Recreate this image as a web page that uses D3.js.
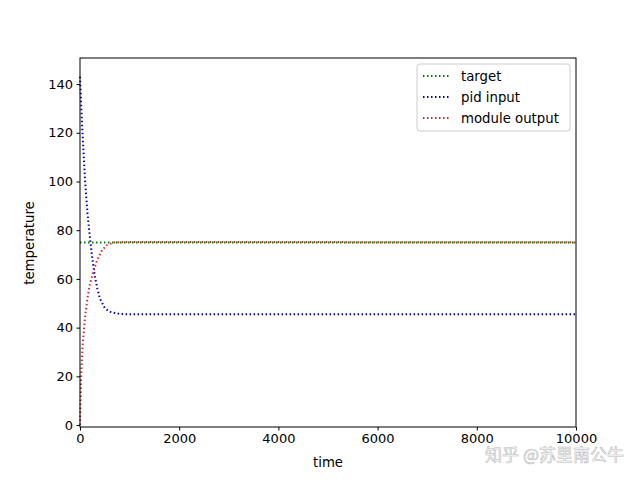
<!DOCTYPE html><html><head><script src="https://cdn.jsdelivr.net/npm/d3@7"></script></head><body style="margin:0"><svg id="c" width="640" height="480"></svg><script>
const xTicks=[0,2000,4000,6000,8000,10000];
const yTicks=[0,20,40,60,80,100,120,140];
const targetT=[0,10000], targetV=[75,75];
const pidT=[0,25,50,100,150,200,250,300,350,400,500,600,800,1000,10000];
const pidV=[143,131,120,101,87,77,68,61,56,52,48,46.5,45.6,45.5,45.5];
const outT=[0,10,20,50,100,150,200,270,350,450,550,700,1000,10000];
const outV=[0,10,18,32,44,52,58,63,68,72,74,75,75.2,75];
const series=[{name:"target",t:targetT,v:targetV,c:"#008000"},{name:"pid input",t:pidT,v:pidV,c:"#0000bf"},{name:"module output",t:outT,v:outV,c:"#d62728"}];
const svg=d3.select("#c");svg.append("rect").attr("width",640).attr("height",480).attr("fill","#fff");
const x=d3.scaleLinear().domain([0,10000]).range([80,576]);
const y=d3.scaleLinear().domain([-0.8,150.7]).range([427,58]);
const f="DejaVu Sans, sans-serif";
const line=d3.line().x(d=>x(d[0])).y(d=>y(d[1]));
const dash="1.5,2.5";
series.forEach(s=>{svg.append("path").attr("d",line(s.t.map((t,i)=>[t,s.v[i]]))).attr("fill","none").attr("stroke",s.c).attr("stroke-width",2).attr("stroke-dasharray",dash);});
const gx=svg.append("g").attr("transform","translate(0,427)").call(d3.axisBottom(x).tickValues(xTicks).tickFormat(d3.format("d")).tickSize(3.5).tickPadding(3.5));
const gy=svg.append("g").attr("transform","translate(80,0)").call(d3.axisLeft(y).tickValues(yTicks).tickFormat(d3.format("d")).tickSize(3.5).tickPadding(3.5));
[gx,gy].forEach(g=>{g.selectAll("text").attr("font-family",f).attr("font-size",13).attr("fill","#000");g.select(".domain").remove();g.selectAll("line").attr("stroke","#000");});
svg.append("rect").attr("x",80).attr("y",58).attr("width",496).attr("height",369).attr("fill","none").attr("stroke","#000").attr("stroke-width",1);
svg.append("text").attr("x",328).attr("y",467).attr("text-anchor","middle").attr("font-family",f).attr("font-size",13.3).text("time");
svg.append("text").attr("transform","translate(34,243) rotate(-90)").attr("text-anchor","middle").attr("font-family",f).attr("font-size",13.3).text("temperature");
const lg=svg.append("g");
lg.append("rect").attr("x",417).attr("y",64).attr("width",153).attr("height",67).attr("rx",3).attr("fill","#fff").attr("stroke","#ccc");
series.forEach((s,i)=>{const yy=76+i*21;lg.append("line").attr("x1",423).attr("x2",451).attr("y1",yy).attr("y2",yy).attr("stroke",s.c).attr("stroke-width",2).attr("stroke-dasharray",dash);lg.append("text").attr("x",461).attr("y",yy+4.5).attr("font-family",f).attr("font-size",13.3).text(s.name);});
svg.append("text").attr("x",624).attr("y",461).attr("text-anchor","end").attr("font-family","Noto Sans CJK SC").attr("font-size",17).attr("fill","#fff").attr("stroke","#bbb").attr("stroke-width",0.6).text("知乎 @苏里南公牛");
</script></body></html>
